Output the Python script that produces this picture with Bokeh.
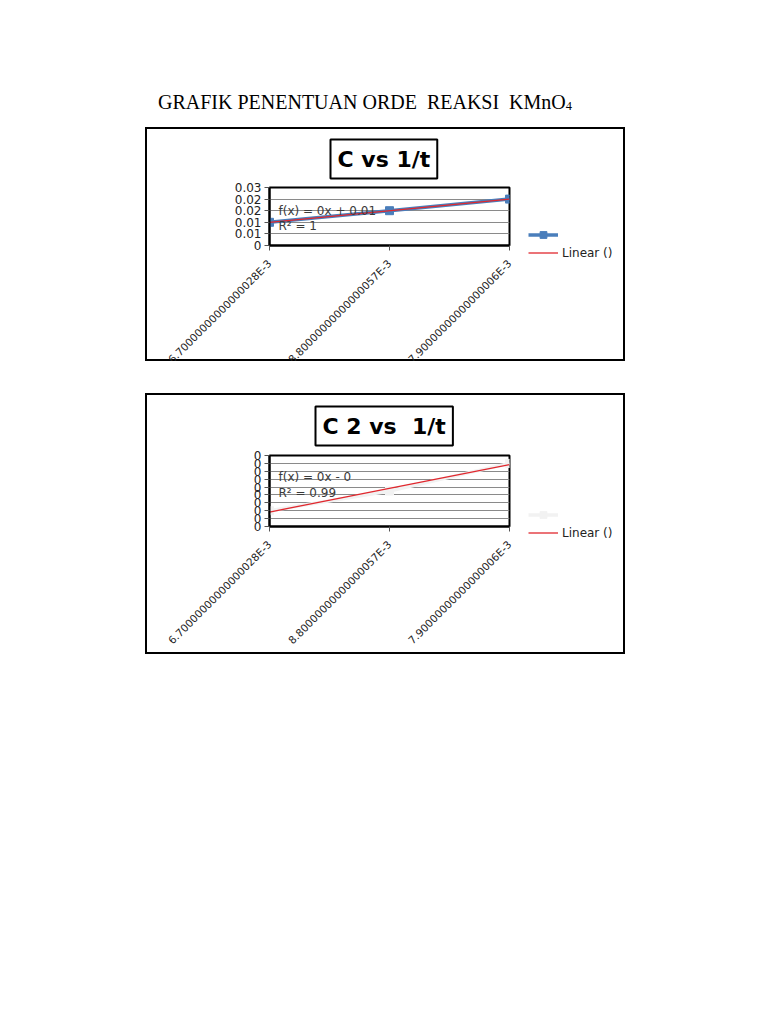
import numpy as np
from math import pi
from bokeh.plotting import figure
from bokeh.models import (Range1d, FixedTicker, Legend, LegendItem, Label, Div, Title)
from bokeh.layouts import column
from bokeh.embed import file_html
from bokeh.resources import INLINE

# ---------------- data ----------------
page_title = ("GRAFIK PENENTUAN ORDE&nbsp; REAKSI&nbsp; KMnO"
              "<sub style='font-size:0.62em;vertical-align:-0.05em'>4</sub>")
x_positions = [1, 2, 3]
x_labels = ["6.70000000000000028E-3", "8.80000000000000057E-3", "7.90000000000000006E-3"]

c_values = [0.010, 0.015, 0.020]          # C
c2_values = [0.000100, 0.000225, 0.000400]  # C 2

y1_ticks = [0.0, 0.005, 0.010, 0.015, 0.020, 0.025]
y1_labels = ["0", "0.01", "0.01", "0.02", "0.02", "0.03"]
y2_ticks = [0.0, 0.00005, 0.0001, 0.00015, 0.0002, 0.00025, 0.0003, 0.00035, 0.0004, 0.00045]
y2_labels = ["0", "0", "0", "0", "0", "0", "0", "0", "0", "0"]

chart1_title = "C vs 1/t"
chart2_title = "C 2 vs\u00a0 1/t"
eq1_lines = ["f(x) = 0x + 0.01", "R\u00b2 = 1"]
eq2_lines = ["f(x) = 0x - 0", "R\u00b2 = 0.99"]
legend_labels = [" ", "Linear ()"]

FONT = "DejaVu Sans"


def make_chart(title, title_offset, title_standoff, yvals, yticks, ylabels, series_color,
               eqs, frame_h, top, bottom, eq_y, legend_y):
    p = figure(frame_width=240, frame_height=frame_h,
               x_range=Range1d(x_positions[0], x_positions[-1]),
               y_range=Range1d(yticks[0], yticks[-1]),
               output_backend="svg", toolbar_location=None,
               min_border_left=124, min_border_right=116,
               min_border_top=top, min_border_bottom=bottom,
               background_fill_color="white", border_fill_color=None)

    p.title = Title(text=title, align="left", offset=title_offset,
                    text_font=FONT, text_font_style="bold", text_font_size="22px",
                    text_color="black", border_line_color="black", border_line_width=2,
                    background_fill_color="white", padding=7, standoff=title_standoff)

    p.outline_line_color = "black"
    p.outline_line_width = 2

    # axes
    p.xaxis.ticker = FixedTicker(ticks=x_positions)
    p.xaxis.major_label_overrides = {k: v for k, v in zip(x_positions, x_labels)}
    p.xaxis.major_label_orientation = pi / 4
    p.xaxis.major_label_text_font = FONT
    p.xaxis.major_label_text_font_size = "10.5px"
    p.xaxis.major_label_text_color = "#222222"
    p.xaxis.major_label_standoff = 11
    p.xaxis.major_tick_out = 5
    p.xaxis.major_tick_in = 0
    p.xaxis.minor_tick_line_color = None
    p.xaxis.axis_line_width = 2
    p.xaxis.axis_line_color = "black"
    p.xaxis.major_tick_line_color = "#555555"

    p.yaxis.ticker = FixedTicker(ticks=yticks)
    p.yaxis.major_label_overrides = {k: v for k, v in zip(yticks, ylabels)}
    p.yaxis.major_label_text_font = FONT
    p.yaxis.major_label_text_font_size = "12px"
    p.yaxis.major_label_text_color = "#222222"
    p.yaxis.major_label_standoff = 3
    p.yaxis.major_tick_out = 5
    p.yaxis.major_tick_in = 0
    p.yaxis.minor_tick_line_color = None
    p.yaxis.axis_line_width = 2
    p.yaxis.axis_line_color = "black"
    p.yaxis.major_tick_line_color = "#555555"

    p.xgrid.grid_line_color = None
    p.ygrid.grid_line_color = "#8a8a8a"
    p.ygrid.grid_line_width = 1.2

    # series
    ln = p.line(x_positions, yvals, line_color=series_color, line_width=3.5)
    sq = p.scatter(x_positions, yvals, marker="square", size=8,
                   fill_color=series_color, line_color=series_color)

    # linear trendline fitted to the series
    slope, intercept = np.polyfit(x_positions, yvals, 1)
    tx = [x_positions[0], x_positions[-1]]
    ty = [slope * v + intercept for v in tx]
    tr = p.line(tx, ty, line_color="#e0282e", line_width=1.3)

    for txt, yy in zip(eqs, eq_y):
        p.add_layout(Label(x=9, y=yy, x_units="screen", y_units="screen", text=txt,
                           text_font=FONT, text_font_size="12px", text_color="#3a3a3a",
                           text_baseline="middle"))

    legend = Legend(items=[LegendItem(label=legend_labels[0], renderers=[ln, sq]),
                           LegendItem(label=legend_labels[1], renderers=[tr])],
                    location=(19, legend_y), border_line_color=None,
                    background_fill_alpha=0, padding=0, margin=0, spacing=1,
                    glyph_width=30, glyph_height=17, label_standoff=4,
                    label_text_font=FONT, label_text_font_size="12px",
                    label_text_color="#222222")
    p.add_layout(legend, "right")
    return p


def chart_box(h, top_margin):
    return Div(text="", width=480, height=h, margin=(top_margin, 0, 0, 145),
               styles={"border": "2px solid #000", "box-sizing": "border-box",
                       "background": "white"})


p1 = make_chart(chart1_title, 61, 18, c_values, y1_ticks, y1_labels, "#4a7ebb",
                eq1_lines, 58, 60, 116, [35, 20], -16)
p2 = make_chart(chart2_title, 46, 20, c2_values, y2_ticks, y2_labels, "#f2f2f2",
                eq2_lines, 71, 62, 128, [50, 34], -15)

H1 = 245  # rendered canvas height of the first chart (labels run below the box)

header = Div(text=page_title, width=600, height=30, margin=(88, 0, 0, 158),
             styles={"font-family": "Liberation Serif", "font-size": "20px",
                     "color": "#000", "white-space": "nowrap"})
box1 = chart_box(234, 9)
p1.margin = (-234, 0, 0, 145)
cover1 = Div(text="", width=480, height=H1 - 234, margin=(-(H1 - 234), 0, 0, 145),
             styles={"background": "white"})
box2 = chart_box(261, 21)
p2.margin = (-261, 0, 0, 145)

layout = column(header, box1, p1, cover1, box2, p2)
open("out.html", "w").write(file_html(layout, INLINE))
